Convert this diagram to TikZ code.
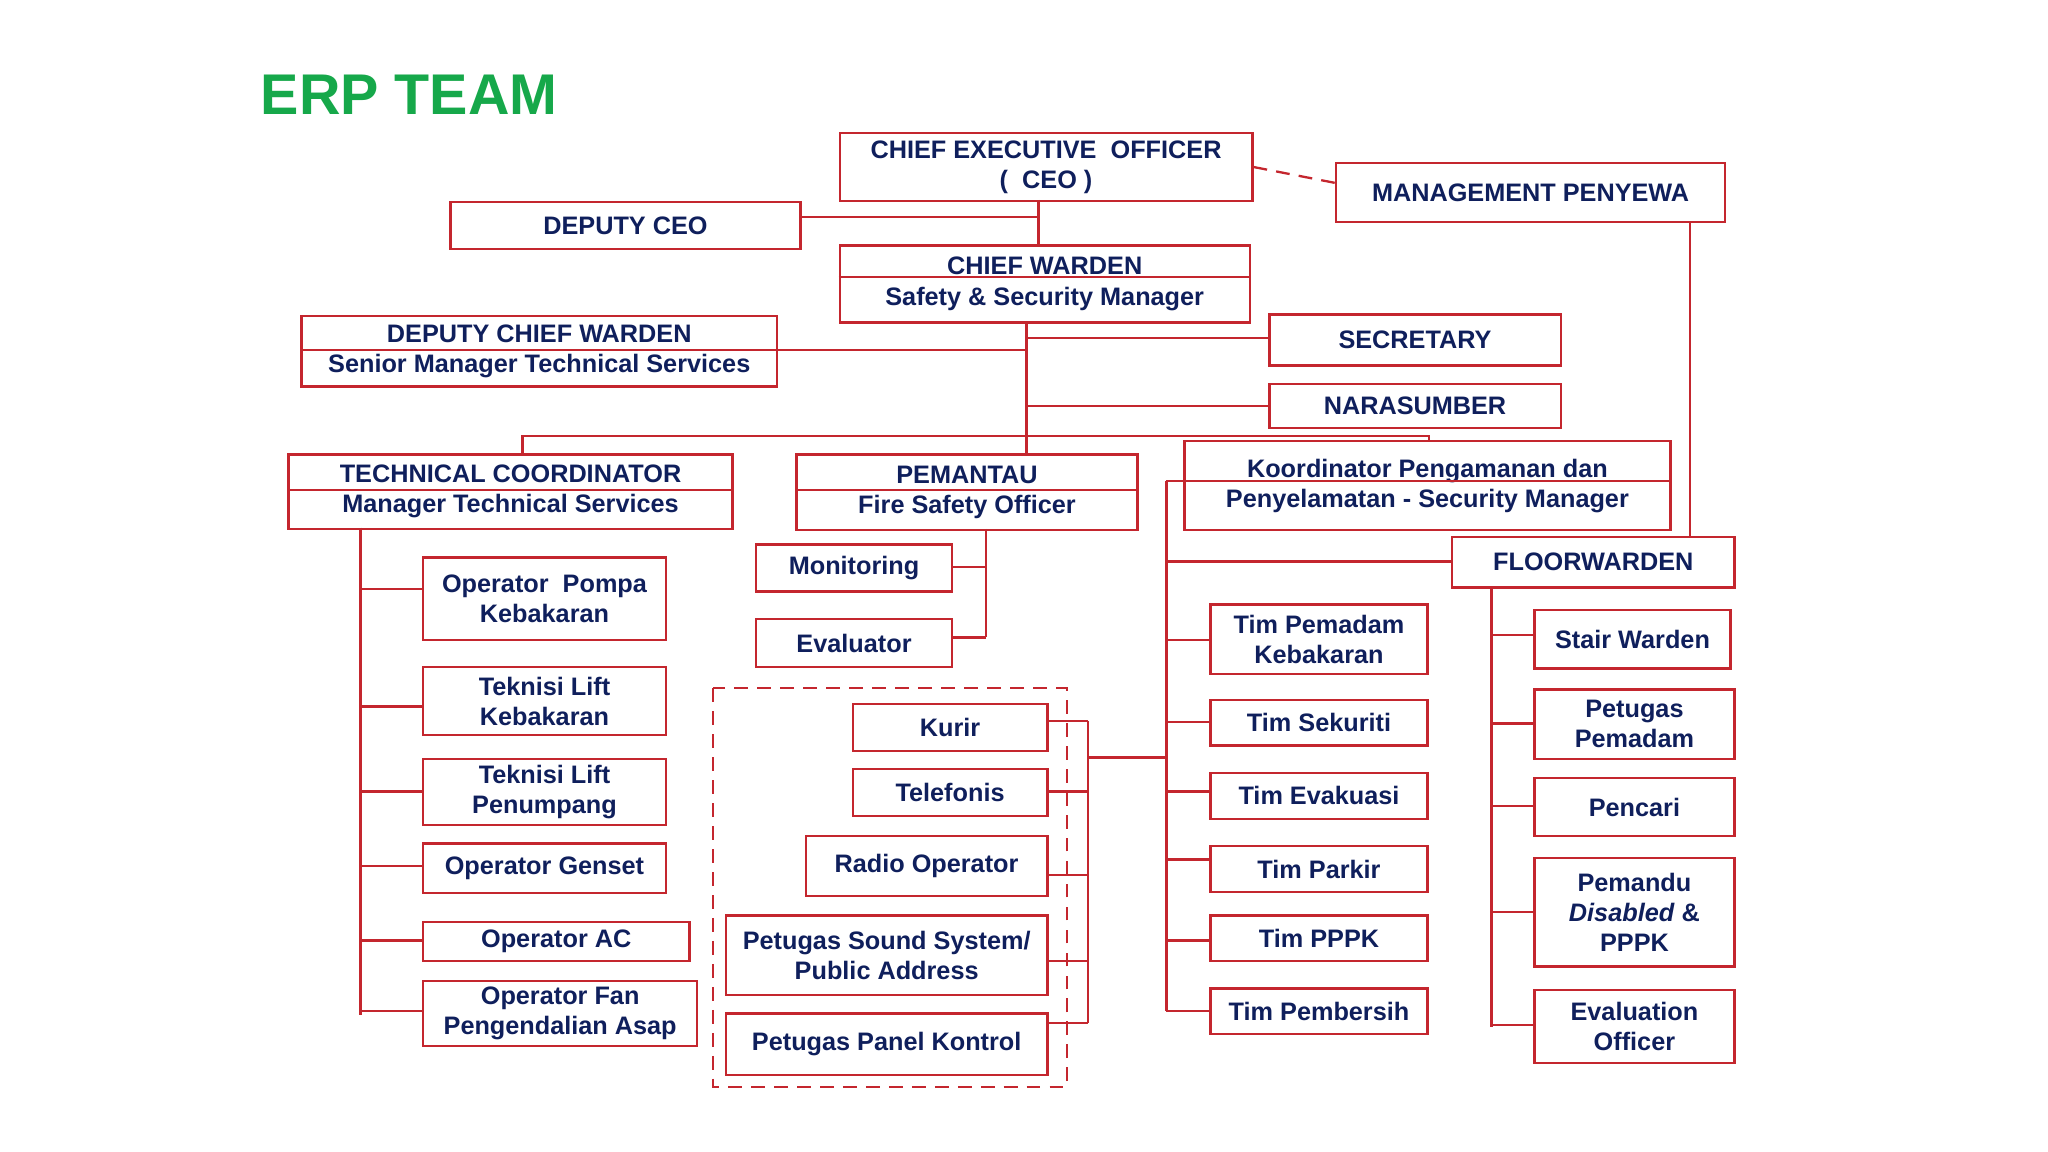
\documentclass[tikz,border=0pt]{standalone}
\usepackage{fontspec}
\setmainfont{Liberation Sans}
\definecolor{erpred}{HTML}{C4262E}
\definecolor{erpnavy}{HTML}{0F1F5C}
\definecolor{erpgreen}{HTML}{16A84A}

% box from corners: name, left, top, right, bottom, text
\newcommand{\orgBox}[6]
{
    \node[box, anchor=north west, minimum width={(#4-#2)*0.01cm},
        minimum height={(#5-#3)*0.01cm}] (#1) at (#2,#3) {#6};
}

\tikzset{
    box/.style={draw=erpred, line width=0.5pt, inner sep=0pt, align=center,
        text=erpnavy, font=\fontsize{5.5}{6.6}\selectfont\bfseries},
    link/.style={draw=erpred, line width=0.5pt},
    dlink/.style={draw=erpred, line width=0.5pt, densely dashed}
}

\begin{document}
\begin{tikzpicture}[x=0.01cm, y=-0.01cm]

    \useasboundingbox (0,0) rectangle (1568,882);

    \node[anchor=base west, text=erpgreen, inner sep=0pt,
        font=\fontsize{12.5}{14}\selectfont\bfseries] (title) at (199,88) {ERP TEAM};

    %top levels
    \orgBox{ceo}{642}{101}{958}{153}{CHIEF EXECUTIVE\ \ OFFICER\\(\ \ CEO )}
    \orgBox{mgmt}{1022}{124}{1320}{169}{MANAGEMENT PENYEWA}
    \orgBox{dceo}{344}{154}{612}{190}{DEPUTY CEO}
    \orgBox{cw}{642}{187}{956}{246}{CHIEF WARDEN\\Safety \& Security Manager}
    \orgBox{dcw}{230}{241}{594}{295}{DEPUTY CHIEF WARDEN\\Senior Manager Technical Services}
    \orgBox{sec}{971}{240}{1194}{279}{SECRETARY}
    \orgBox{nara}{971}{293}{1194}{327}{NARASUMBER}

    %third level
    \orgBox{tc}{220}{347}{560}{404}{TECHNICAL COORDINATOR\\Manager Technical Services}
    \orgBox{pem}{609}{347}{870}{405}{PEMANTAU\\Fire Safety Officer}
    \orgBox{kor}{906}{337}{1278}{405}{Koordinator Pengamanan dan\\Penyelamatan - Security Manager}
    \orgBox{fw}{1111}{410}{1327}{449}{FLOORWARDEN}
    \orgBox{mon}{578}{416}{728}{452}{Monitoring}
    \orgBox{eva}{578}{473}{728}{510}{Evaluator}

    %lines through boxes
    \draw[link] (cw.west |- 0,212) -- (cw.east |- 0,212);
    \draw[link] (dcw.west |- 0,268) -- (dcw.east |- 0,268);
    \draw[link] (tc.west |- 0,375) -- (tc.east |- 0,375);
    \draw[link] (pem.west |- 0,375) -- (pem.east |- 0,375);
    \draw[link] (893,368) -- (kor.east |- 0,368);

    %technical column
    \orgBox{t1}{323}{426}{509}{489}{Operator\ \ Pompa\\Kebakaran}
    \orgBox{t2}{323}{510}{509}{562}{Teknisi Lift\\Kebakaran}
    \orgBox{t3}{323}{580}{509}{631}{Teknisi Lift\\Penumpang}
    \orgBox{t4}{323}{645}{509}{683}{Operator Genset}
    \orgBox{t5}{323}{705}{527}{735}{Operator AC}
    \orgBox{t6}{323}{750}{533}{800}{Operator Fan\\Pengendalian Asap}

    %communication group
    \draw[dlink] (546,527) rectangle (817,832);
    \orgBox{c1}{652}{538}{801}{574}{Kurir}
    \orgBox{c2}{652}{588}{801}{624}{Telefonis}
    \orgBox{c3}{616}{639}{801}{685}{Radio Operator}
    \orgBox{c4}{555}{700}{801}{761}{Petugas Sound System/\\Public Address}
    \orgBox{c5}{555}{775}{801}{822}{Petugas Panel Kontrol}

    %teams
    \orgBox{s1}{926}{462}{1092}{515}{Tim Pemadam\\Kebakaran}
    \orgBox{s2}{926}{535}{1092}{570}{Tim Sekuriti}
    \orgBox{s3}{926}{591}{1092}{626}{Tim Evakuasi}
    \orgBox{s4}{926}{647}{1092}{682}{Tim Parkir}
    \orgBox{s5}{926}{700}{1092}{735}{Tim PPPK}
    \orgBox{s6}{926}{756}{1092}{791}{Tim Pembersih}

    %floorwarden column
    \orgBox{f1}{1174}{466}{1324}{511}{Stair Warden}
    \orgBox{f2}{1174}{527}{1327}{580}{Petugas\\Pemadam}
    \orgBox{f3}{1174}{595}{1327}{639}{Pencari}
    \orgBox{f4}{1174}{656}{1327}{739}{Pemandu\\\textit{Disabled} \&\\PPPK}
    \orgBox{f5}{1174}{757}{1327}{813}{Evaluation\\Officer}

    %connectors top
    \coordinate (ceoS) at (795,153);
    \coordinate (spine) at (786,334);
    \draw[dlink] (ceo.east) ++(0,-0.01) -- (mgmt.west |- 0,140);
    \draw[link] (dceo.east |- 0,166) -- (795,166);
    \draw[link] (ceoS) -- (cw.north -| ceoS);
    \draw[link] (cw.south -| spine) -- (pem.north -| spine);
    \draw[link] (dcw.east |- 0,268) -- (786,268);
    \draw[link] (786,259) -- (sec.west |- 0,259);
    \draw[link] (786,311) -- (nara.west |- 0,311);
    \draw[link] (tc.north -| 400,0) |- (spine) -- (1094,334) -- (kor.north -| 1094,0);
    \draw[link] (mgmt.south -| 1294,0) -- (fw.north -| 1294,0);

    %pemantau
    \coordinate (pv) at (755,405);
    \draw[link] (pv) -- (755,488);
    \draw[link] (mon.east |- 0,434) -- (755,434);
    \draw[link] (eva.east |- 0,488) -- (755,488);

    %technical trunk
    \coordinate (tt) at (276,404);
    \draw[link] (tt) -- (276,777);
    \foreach \b/\y in {t1/451,t2/541,t3/606,t4/663,t5/720,t6/774}
        \draw[link] (276,\y) -- (\b.west |- 0,\y);

    %communication trunk
    \draw[link] (833,552) -- (833,783);
    \foreach \b/\y in {c1/552,c2/606,c3/670,c4/736,c5/783}
        \draw[link] (\b.east |- 0,\y) -- (833,\y);
    \draw[link] (833,580) -- (893,580);

    %teams trunk
    \draw[link] (893,368) -- (893,774);
    \draw[link] (893,430) -- (fw.west |- 0,430);
    \foreach \b/\y in {s1/490,s2/553,s3/606,s4/658,s5/720,s6/774}
        \draw[link] (893,\y) -- (\b.west |- 0,\y);

    %floorwarden trunk
    \draw[link] (fw.south -| 1142,0) -- (1142,786);
    \foreach \b/\y in {f1/486,f2/554,f3/617,f4/698,f5/785}
        \draw[link] (1142,\y) -- (\b.west |- 0,\y);

\end{tikzpicture}
\end{document}
